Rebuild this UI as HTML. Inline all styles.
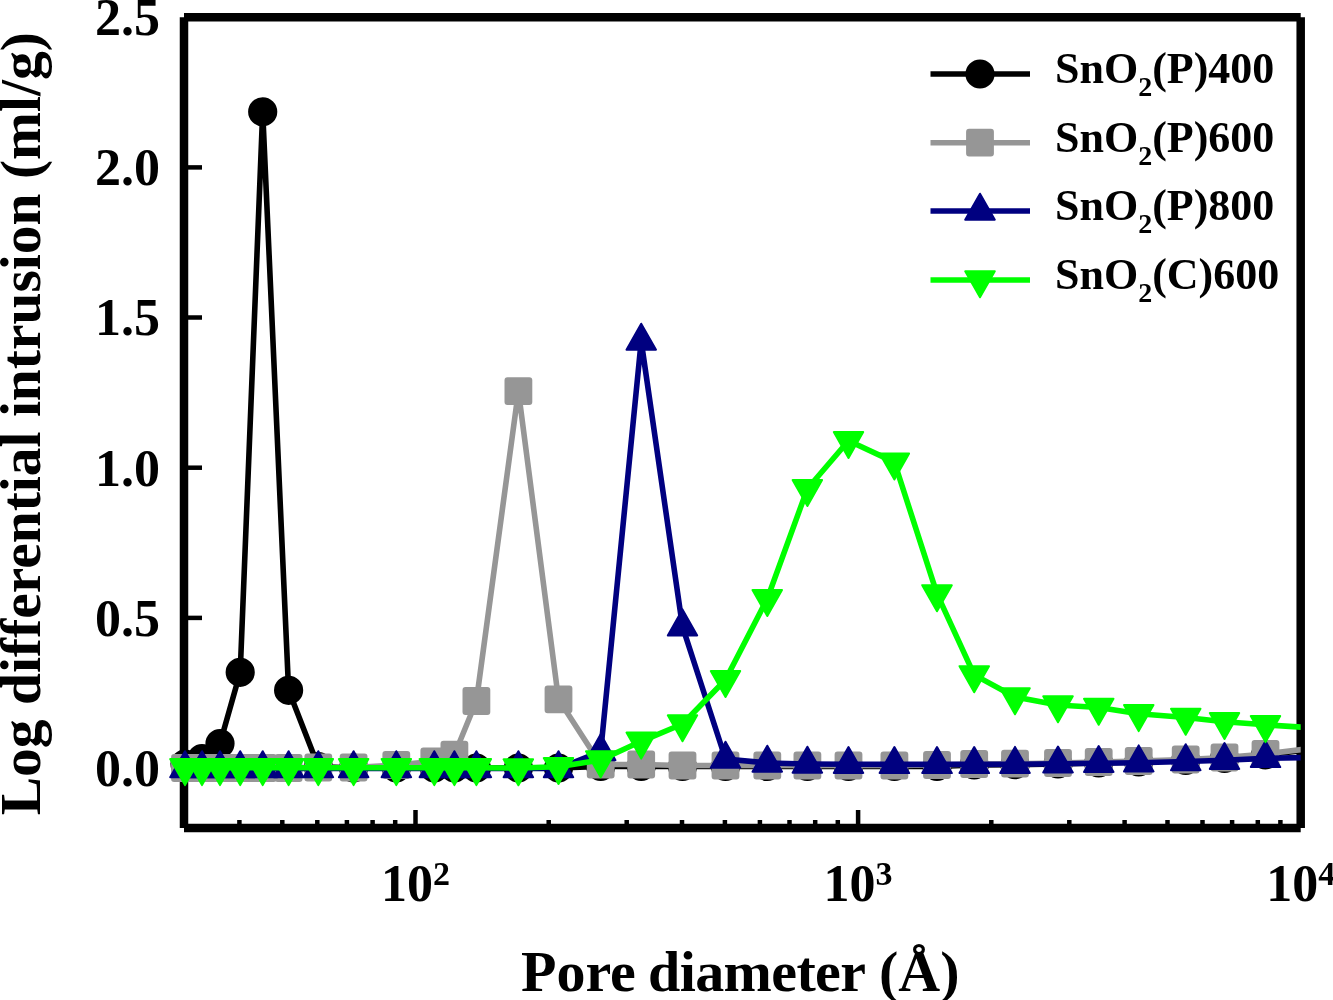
<!DOCTYPE html>
<html><head><meta charset="utf-8"><title>Pore size distribution</title>
<style>html,body{margin:0;padding:0;background:#fff;}body{width:1333px;height:1000px;overflow:hidden;}svg{display:block;}</style>
</head><body>
<svg width="1333" height="1000" viewBox="0 0 1333 1000">
<defs><clipPath id="pc"><rect x="0" y="0" width="1300.7" height="1000"/></clipPath></defs>
<line x1="184" y1="17.2" x2="184" y2="828" stroke="#000" stroke-width="8.5"/>
<line x1="184" y1="828" x2="1300.7" y2="828" stroke="#000" stroke-width="8.5"/>
<line x1="1300.7" y1="17.2" x2="1300.7" y2="828" stroke="#000" stroke-width="8.5"/>
<line x1="184" y1="17.2" x2="1300.7" y2="17.2" stroke="#000" stroke-width="8.5"/>
<line x1="184" y1="768" x2="202" y2="768" stroke="#000" stroke-width="4.5"/>
<line x1="184" y1="617.9" x2="202" y2="617.9" stroke="#000" stroke-width="4.5"/>
<line x1="184" y1="467.7" x2="202" y2="467.7" stroke="#000" stroke-width="4.5"/>
<line x1="184" y1="317.5" x2="202" y2="317.5" stroke="#000" stroke-width="4.5"/>
<line x1="184" y1="167.4" x2="202" y2="167.4" stroke="#000" stroke-width="4.5"/>
<line x1="415.5" y1="828" x2="415.5" y2="810" stroke="#000" stroke-width="4.5"/>
<line x1="858.1" y1="828" x2="858.1" y2="810" stroke="#000" stroke-width="4.5"/>
<line x1="239.4" y1="828" x2="239.4" y2="820" stroke="#000" stroke-width="4.5"/>
<line x1="282.3" y1="828" x2="282.3" y2="820" stroke="#000" stroke-width="4.5"/>
<line x1="317.3" y1="828" x2="317.3" y2="820" stroke="#000" stroke-width="4.5"/>
<line x1="346.9" y1="828" x2="346.9" y2="820" stroke="#000" stroke-width="4.5"/>
<line x1="372.6" y1="828" x2="372.6" y2="820" stroke="#000" stroke-width="4.5"/>
<line x1="395.2" y1="828" x2="395.2" y2="820" stroke="#000" stroke-width="4.5"/>
<line x1="548.7" y1="828" x2="548.7" y2="820" stroke="#000" stroke-width="4.5"/>
<line x1="626.7" y1="828" x2="626.7" y2="820" stroke="#000" stroke-width="4.5"/>
<line x1="682" y1="828" x2="682" y2="820" stroke="#000" stroke-width="4.5"/>
<line x1="724.9" y1="828" x2="724.9" y2="820" stroke="#000" stroke-width="4.5"/>
<line x1="759.9" y1="828" x2="759.9" y2="820" stroke="#000" stroke-width="4.5"/>
<line x1="789.5" y1="828" x2="789.5" y2="820" stroke="#000" stroke-width="4.5"/>
<line x1="815.2" y1="828" x2="815.2" y2="820" stroke="#000" stroke-width="4.5"/>
<line x1="837.8" y1="828" x2="837.8" y2="820" stroke="#000" stroke-width="4.5"/>
<line x1="991.3" y1="828" x2="991.3" y2="820" stroke="#000" stroke-width="4.5"/>
<line x1="1069.3" y1="828" x2="1069.3" y2="820" stroke="#000" stroke-width="4.5"/>
<line x1="1124.6" y1="828" x2="1124.6" y2="820" stroke="#000" stroke-width="4.5"/>
<line x1="1167.5" y1="828" x2="1167.5" y2="820" stroke="#000" stroke-width="4.5"/>
<line x1="1202.5" y1="828" x2="1202.5" y2="820" stroke="#000" stroke-width="4.5"/>
<line x1="1232.1" y1="828" x2="1232.1" y2="820" stroke="#000" stroke-width="4.5"/>
<line x1="1257.8" y1="828" x2="1257.8" y2="820" stroke="#000" stroke-width="4.5"/>
<line x1="1280.4" y1="828" x2="1280.4" y2="820" stroke="#000" stroke-width="4.5"/>
<polyline points="185,764 202,758.5 220,743.5 240.2,672.3 262.7,111.8 288.6,690.3 318.3,766.5 353.6,768 396.3,768 434.3,768 454.4,768 476.4,768 518.4,768 558.5,768 600.7,766.5 641.2,766.5 682.5,766.5 725.5,766.5 767.3,766.5 807.4,766.5 848.5,766.5 894.4,766.5 937,766.5 974.2,765 1015,764.7 1058,764 1098.7,763 1138.7,762 1185.7,760.5 1224.5,758.5 1265.5,755 1306,750" fill="none" stroke="#000000" stroke-width="5.6" stroke-linejoin="round" clip-path="url(#pc)"/>
<g fill="#000000" stroke="#000000" stroke-width="2" stroke-linejoin="round"><circle cx="185" cy="764" r="13.6"/><circle cx="202" cy="758.5" r="13.6"/><circle cx="220" cy="743.5" r="13.6"/><circle cx="240.2" cy="672.3" r="13.6"/><circle cx="262.7" cy="111.8" r="13.6"/><circle cx="288.6" cy="690.3" r="13.6"/><circle cx="318.3" cy="766.5" r="13.6"/><circle cx="353.6" cy="768" r="13.6"/><circle cx="396.3" cy="768" r="13.6"/><circle cx="434.3" cy="768" r="13.6"/><circle cx="454.4" cy="768" r="13.6"/><circle cx="476.4" cy="768" r="13.6"/><circle cx="518.4" cy="768" r="13.6"/><circle cx="558.5" cy="768" r="13.6"/><circle cx="600.7" cy="766.5" r="13.6"/><circle cx="641.2" cy="766.5" r="13.6"/><circle cx="682.5" cy="766.5" r="13.6"/><circle cx="725.5" cy="766.5" r="13.6"/><circle cx="767.3" cy="766.5" r="13.6"/><circle cx="807.4" cy="766.5" r="13.6"/><circle cx="848.5" cy="766.5" r="13.6"/><circle cx="894.4" cy="766.5" r="13.6"/><circle cx="937" cy="766.5" r="13.6"/><circle cx="974.2" cy="765" r="13.6"/><circle cx="1015" cy="764.7" r="13.6"/><circle cx="1058" cy="764" r="13.6"/><circle cx="1098.7" cy="763" r="13.6"/><circle cx="1138.7" cy="762" r="13.6"/><circle cx="1185.7" cy="760.5" r="13.6"/><circle cx="1224.5" cy="758.5" r="13.6"/><circle cx="1265.5" cy="755" r="13.6"/></g>
<polyline points="185,768 202,768 220,768 240.2,768 262.7,768 288.6,768 318.3,767.5 353.6,767.5 396.3,765 434.3,761.4 454.4,754.7 476.4,701 518.4,391.2 558.5,699.3 600.7,764.5 641.2,764.5 682.5,765.5 725.5,765.5 767.3,765.5 807.4,765.5 848.5,765.5 894.4,765.5 937,765 974.2,764 1015,763.7 1058,763 1098.7,762 1138.7,761 1185.7,759.5 1224.5,757.5 1265.5,754 1306,749" fill="none" stroke="#969696" stroke-width="5.6" stroke-linejoin="round" clip-path="url(#pc)"/>
<g fill="#969696" stroke="#969696" stroke-width="2" stroke-linejoin="round"><rect x="172.1" y="755.1" width="25.8" height="25.8" rx="2"/><rect x="189.1" y="755.1" width="25.8" height="25.8" rx="2"/><rect x="207.1" y="755.1" width="25.8" height="25.8" rx="2"/><rect x="227.3" y="755.1" width="25.8" height="25.8" rx="2"/><rect x="249.8" y="755.1" width="25.8" height="25.8" rx="2"/><rect x="275.7" y="755.1" width="25.8" height="25.8" rx="2"/><rect x="305.4" y="754.6" width="25.8" height="25.8" rx="2"/><rect x="340.7" y="754.6" width="25.8" height="25.8" rx="2"/><rect x="383.4" y="752.1" width="25.8" height="25.8" rx="2"/><rect x="421.4" y="748.5" width="25.8" height="25.8" rx="2"/><rect x="441.5" y="741.8" width="25.8" height="25.8" rx="2"/><rect x="463.5" y="688.1" width="25.8" height="25.8" rx="2"/><rect x="505.5" y="378.3" width="25.8" height="25.8" rx="2"/><rect x="545.6" y="686.4" width="25.8" height="25.8" rx="2"/><rect x="587.8" y="751.6" width="25.8" height="25.8" rx="2"/><rect x="628.3" y="751.6" width="25.8" height="25.8" rx="2"/><rect x="669.6" y="752.6" width="25.8" height="25.8" rx="2"/><rect x="712.6" y="752.6" width="25.8" height="25.8" rx="2"/><rect x="754.4" y="752.6" width="25.8" height="25.8" rx="2"/><rect x="794.5" y="752.6" width="25.8" height="25.8" rx="2"/><rect x="835.6" y="752.6" width="25.8" height="25.8" rx="2"/><rect x="881.5" y="752.6" width="25.8" height="25.8" rx="2"/><rect x="924.1" y="752.1" width="25.8" height="25.8" rx="2"/><rect x="961.3" y="751.1" width="25.8" height="25.8" rx="2"/><rect x="1002.1" y="750.8" width="25.8" height="25.8" rx="2"/><rect x="1045.1" y="750.1" width="25.8" height="25.8" rx="2"/><rect x="1085.8" y="749.1" width="25.8" height="25.8" rx="2"/><rect x="1125.8" y="748.1" width="25.8" height="25.8" rx="2"/><rect x="1172.8" y="746.6" width="25.8" height="25.8" rx="2"/><rect x="1211.6" y="744.6" width="25.8" height="25.8" rx="2"/><rect x="1252.6" y="741.1" width="25.8" height="25.8" rx="2"/></g>
<polyline points="185,768.5 202,768.5 220,768.5 240.2,768.5 262.7,768.5 288.6,768.5 318.3,768.5 353.6,768.5 396.3,768.5 434.3,768.5 454.4,768.5 476.4,768.5 518.4,768.5 558.5,768.5 600.7,751.5 641.2,341 682.5,626.7 725.5,759 767.3,763 807.4,764 848.5,764.3 894.4,764.4 937,764.4 974.2,764.4 1015,764.2 1058,763.8 1098.7,763.3 1138.7,762.7 1185.7,761.5 1224.5,760.3 1265.5,758.4 1306,757.5" fill="none" stroke="#000080" stroke-width="5.6" stroke-linejoin="round" clip-path="url(#pc)"/>
<g fill="#000080" stroke="#000080" stroke-width="2" stroke-linejoin="round"><path d="M185 751.2L199.8 777.2L170.2 777.2Z"/><path d="M202 751.2L216.8 777.2L187.2 777.2Z"/><path d="M220 751.2L234.8 777.2L205.2 777.2Z"/><path d="M240.2 751.2L254.9 777.2L225.4 777.2Z"/><path d="M262.7 751.2L277.4 777.2L247.9 777.2Z"/><path d="M288.6 751.2L303.4 777.2L273.9 777.2Z"/><path d="M318.3 751.2L333.1 777.2L303.6 777.2Z"/><path d="M353.6 751.2L368.4 777.2L338.9 777.2Z"/><path d="M396.3 751.2L411.1 777.2L381.6 777.2Z"/><path d="M434.3 751.2L449.1 777.2L419.6 777.2Z"/><path d="M454.4 751.2L469.1 777.2L439.6 777.2Z"/><path d="M476.4 751.2L491.1 777.2L461.6 777.2Z"/><path d="M518.4 751.2L533.1 777.2L503.6 777.2Z"/><path d="M558.5 751.2L573.2 777.2L543.8 777.2Z"/><path d="M600.7 734.2L615.5 760.2L586 760.2Z"/><path d="M641.2 323.7L656 349.7L626.5 349.7Z"/><path d="M682.5 609.4L697.2 635.4L667.8 635.4Z"/><path d="M725.5 741.7L740.2 767.7L710.8 767.7Z"/><path d="M767.3 745.7L782 771.7L752.5 771.7Z"/><path d="M807.4 746.7L822.1 772.7L792.6 772.7Z"/><path d="M848.5 747L863.2 773L833.8 773Z"/><path d="M894.4 747.1L909.1 773.1L879.6 773.1Z"/><path d="M937 747.1L951.8 773.1L922.2 773.1Z"/><path d="M974.2 747.1L989 773.1L959.5 773.1Z"/><path d="M1015 746.9L1029.8 772.9L1000.2 772.9Z"/><path d="M1058 746.5L1072.8 772.5L1043.2 772.5Z"/><path d="M1098.7 746L1113.5 772L1084 772Z"/><path d="M1138.7 745.4L1153.5 771.4L1124 771.4Z"/><path d="M1185.7 744.2L1200.5 770.2L1171 770.2Z"/><path d="M1224.5 743L1239.2 769L1209.8 769Z"/><path d="M1265.5 741.1L1280.2 767.1L1250.8 767.1Z"/></g>
<polyline points="185,767.8 202,767.8 220,767.8 240.2,767.8 262.7,767.8 288.6,767.8 318.3,767.8 353.6,767.8 396.3,767.8 434.3,767.8 454.4,767.8 476.4,767.8 518.4,768 558.5,766.7 600.7,760 641.2,741.3 682.5,724 725.5,679.7 767.3,598.7 807.4,488.7 848.5,440.7 894.4,462.1 937,593.9 974.2,674.9 1015,697 1058,705 1098.7,707.5 1138.7,713.8 1185.7,717.5 1224.5,721.7 1265.5,724.8 1306,727.5" fill="none" stroke="#00ff00" stroke-width="5.6" stroke-linejoin="round" clip-path="url(#pc)"/>
<g fill="#00ff00" stroke="#00ff00" stroke-width="2" stroke-linejoin="round"><path d="M170.2 759.1L199.8 759.1L185 785.1Z"/><path d="M187.2 759.1L216.8 759.1L202 785.1Z"/><path d="M205.2 759.1L234.8 759.1L220 785.1Z"/><path d="M225.4 759.1L254.9 759.1L240.2 785.1Z"/><path d="M247.9 759.1L277.4 759.1L262.7 785.1Z"/><path d="M273.9 759.1L303.4 759.1L288.6 785.1Z"/><path d="M303.6 759.1L333.1 759.1L318.3 785.1Z"/><path d="M338.9 759.1L368.4 759.1L353.6 785.1Z"/><path d="M381.6 759.1L411.1 759.1L396.3 785.1Z"/><path d="M419.6 759.1L449.1 759.1L434.3 785.1Z"/><path d="M439.6 759.1L469.1 759.1L454.4 785.1Z"/><path d="M461.6 759.1L491.1 759.1L476.4 785.1Z"/><path d="M503.6 759.3L533.1 759.3L518.4 785.3Z"/><path d="M543.8 758L573.2 758L558.5 784Z"/><path d="M586 751.3L615.5 751.3L600.7 777.3Z"/><path d="M626.5 732.6L656 732.6L641.2 758.6Z"/><path d="M667.8 715.3L697.2 715.3L682.5 741.3Z"/><path d="M710.8 671L740.2 671L725.5 697Z"/><path d="M752.5 590L782 590L767.3 616Z"/><path d="M792.6 480L822.1 480L807.4 506Z"/><path d="M833.8 432L863.2 432L848.5 458Z"/><path d="M879.6 453.4L909.1 453.4L894.4 479.4Z"/><path d="M922.2 585.2L951.8 585.2L937 611.2Z"/><path d="M959.5 666.2L989 666.2L974.2 692.2Z"/><path d="M1000.2 688.3L1029.8 688.3L1015 714.3Z"/><path d="M1043.2 696.3L1072.8 696.3L1058 722.3Z"/><path d="M1084 698.8L1113.5 698.8L1098.7 724.8Z"/><path d="M1124 705.1L1153.5 705.1L1138.7 731.1Z"/><path d="M1171 708.8L1200.5 708.8L1185.7 734.8Z"/><path d="M1209.8 713L1239.2 713L1224.5 739Z"/><path d="M1250.8 716.1L1280.2 716.1L1265.5 742.1Z"/></g>
<g font-family="'Liberation Serif', 'Times New Roman', serif" font-weight="bold" fill="#000"><text x="160" y="785.8" text-anchor="end" font-size="52">0.0</text>
<text x="160" y="635.6" text-anchor="end" font-size="52">0.5</text>
<text x="160" y="485.5" text-anchor="end" font-size="52">1.0</text>
<text x="160" y="335.3" text-anchor="end" font-size="52">1.5</text>
<text x="160" y="185.2" text-anchor="end" font-size="52">2.0</text>
<text x="160" y="35" text-anchor="end" font-size="52">2.5</text>
<text x="415.5" y="901" text-anchor="middle" font-size="52">10<tspan font-size="34" dy="-16">2</tspan></text>
<text x="858.1" y="901" text-anchor="middle" font-size="52">10<tspan font-size="34" dy="-16">3</tspan></text>
<text x="1300.7" y="901" text-anchor="middle" font-size="52">10<tspan font-size="34" dy="-16">4</tspan></text>
<text y="990.5" font-size="58"><tspan x="521">Pore</tspan><tspan x="648" textLength="218" lengthAdjust="spacing">diameter</tspan><tspan x="879">(&#197;)</tspan></text>
<text transform="translate(40 423.75) rotate(-90)" text-anchor="middle" font-size="57.5">Log differential intrusion (ml/g)</text></g>
<line x1="930.5" y1="74" x2="1030" y2="74" stroke="#000000" stroke-width="5.6"/>
<g fill="#000000" stroke="#000000" stroke-width="2" stroke-linejoin="round"><circle cx="980" cy="74" r="13.6"/></g>
<text x="1055" y="83" font-family="'Liberation Serif', 'Times New Roman', serif" font-weight="bold" font-size="44">SnO<tspan font-size="28" dy="13">2</tspan><tspan dy="-13">(P)400</tspan></text>
<line x1="930.5" y1="142.7" x2="1030" y2="142.7" stroke="#969696" stroke-width="5.6"/>
<g fill="#969696" stroke="#969696" stroke-width="2" stroke-linejoin="round"><rect x="967.1" y="129.8" width="25.8" height="25.8" rx="2"/></g>
<text x="1055" y="151.7" font-family="'Liberation Serif', 'Times New Roman', serif" font-weight="bold" font-size="44">SnO<tspan font-size="28" dy="13">2</tspan><tspan dy="-13">(P)600</tspan></text>
<line x1="930.5" y1="211" x2="1030" y2="211" stroke="#000080" stroke-width="5.6"/>
<g fill="#000080" stroke="#000080" stroke-width="2" stroke-linejoin="round"><path d="M980 193.7L994.8 219.7L965.2 219.7Z"/></g>
<text x="1055" y="220" font-family="'Liberation Serif', 'Times New Roman', serif" font-weight="bold" font-size="44">SnO<tspan font-size="28" dy="13">2</tspan><tspan dy="-13">(P)800</tspan></text>
<line x1="930.5" y1="280" x2="1030" y2="280" stroke="#00ff00" stroke-width="5.6"/>
<g fill="#00ff00" stroke="#00ff00" stroke-width="2" stroke-linejoin="round"><path d="M965.2 271.3L994.8 271.3L980 297.3Z"/></g>
<text x="1055" y="289" font-family="'Liberation Serif', 'Times New Roman', serif" font-weight="bold" font-size="44">SnO<tspan font-size="28" dy="13">2</tspan><tspan dy="-13">(C)600</tspan></text>
</svg>
</body></html>
